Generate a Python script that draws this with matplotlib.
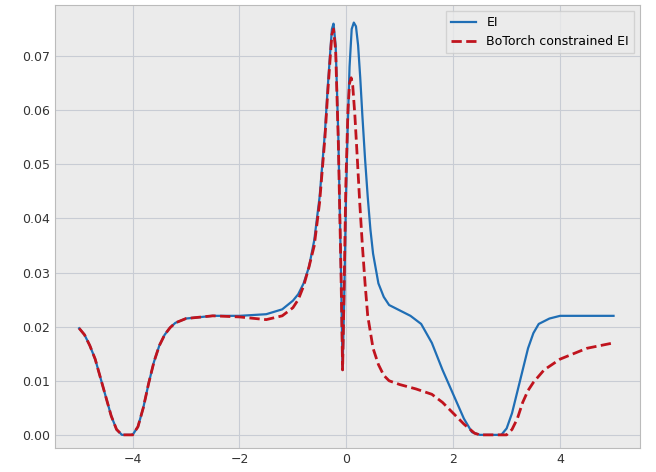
import numpy as np
import matplotlib.pyplot as plt

# EI curve
x_ei = [-5, -4.9, -4.8, -4.7, -4.6, -4.5, -4.4, -4.3, -4.2, -4.0, -3.9, -3.8, -3.7, -3.6, -3.5,
        -3.4, -3.3, -3.2, -3.0, -2.5, -2.0, -1.5, -1.2, -1.0, -0.9, -0.8, -0.7, -0.6, -0.5, -0.4,
        -0.35, -0.3, -0.27, -0.24, -0.2, -0.15, -0.1, -0.07, -0.04, -0.01, 0.02, 0.06, 0.1, 0.14,
        0.18, 0.22, 0.26, 0.3, 0.35, 0.4, 0.45, 0.5, 0.6, 0.7, 0.8, 1.0, 1.2, 1.4, 1.6, 1.8, 2.0,
        2.2, 2.35, 2.5, 2.9, 3.0, 3.1, 3.2, 3.3, 3.4, 3.5, 3.6, 3.8, 4.0, 5.0]
y_ei = [0.0197, 0.0185, 0.0165, 0.014, 0.0105, 0.007, 0.0035, 0.001, 0.0, 0.0, 0.0015, 0.005,
        0.0095, 0.0135, 0.0165, 0.0185, 0.0198, 0.0207, 0.0215, 0.022, 0.022, 0.0223, 0.0232,
        0.0248, 0.026, 0.028, 0.031, 0.036, 0.044, 0.056, 0.064, 0.071, 0.075, 0.076, 0.072,
        0.055, 0.03, 0.012, 0.025, 0.042, 0.055, 0.068, 0.075, 0.0762, 0.0755, 0.072, 0.066,
        0.059, 0.051, 0.044, 0.038, 0.0335, 0.028, 0.0255, 0.024, 0.023, 0.022, 0.0205, 0.017,
        0.012, 0.0075, 0.003, 0.0005, 0.0, 0.0, 0.0012, 0.004, 0.008, 0.012, 0.016, 0.0188, 0.0205,
        0.0215, 0.022, 0.022]

# BoTorch constrained EI
x_con = [-5, -4.9, -4.8, -4.7, -4.6, -4.5, -4.4, -4.3, -4.2, -4.0, -3.9, -3.8, -3.7, -3.6, -3.5,
         -3.4, -3.3, -3.2, -3.0, -2.5, -2.0, -1.5, -1.2, -1.0, -0.9, -0.8, -0.7, -0.6, -0.5, -0.4,
         -0.35, -0.3, -0.27, -0.24, -0.2, -0.15, -0.1, -0.07, -0.04, -0.01, 0.03, 0.06, 0.09,
         0.12, 0.16, 0.2, 0.25, 0.3, 0.35, 0.4, 0.5, 0.6, 0.7, 0.8, 1.0, 1.3, 1.6, 1.8, 2.0, 2.2,
         2.4, 2.5, 3.0, 3.1, 3.2, 3.3, 3.4, 3.5, 3.7, 4.0, 4.5, 5.0]
y_con = [0.0197, 0.0185, 0.0165, 0.014, 0.0105, 0.007, 0.0035, 0.001, 0.0, 0.0, 0.0015, 0.005,
         0.0095, 0.0135, 0.0165, 0.0185, 0.0198, 0.0207, 0.0215, 0.022, 0.0218, 0.0213, 0.022,
         0.0235, 0.025, 0.0275, 0.031, 0.035, 0.043, 0.055, 0.063, 0.07, 0.074, 0.075, 0.071,
         0.054, 0.03, 0.012, 0.028, 0.046, 0.06, 0.065, 0.066, 0.0645, 0.059, 0.052, 0.043, 0.035,
         0.028, 0.022, 0.016, 0.013, 0.011, 0.01, 0.0093, 0.0085, 0.0075, 0.006, 0.004, 0.002,
         0.0003, 0.0, 0.0, 0.001, 0.003, 0.006, 0.0082, 0.0097, 0.012, 0.014, 0.016, 0.017]

fig = plt.figure(figsize=(6.56, 4.72), dpi=100)
ax = fig.add_axes([0.084, 0.05, 0.892, 0.94])
ax.set_facecolor('#ebebeb')
ax.grid(True, color='#c8ccd4', lw=0.8)
ax.set_axisbelow(True)
for s in ax.spines.values():
    s.set_color('#bbbbbb')

ax.plot(x_ei, y_ei, color='#1f6eb5', lw=1.6, label='EI')
ax.plot(x_con, y_con, color='#c0141e', lw=2, ls='--', label='BoTorch constrained EI')

ax.set_xlim(-5.45, 5.5)
ax.set_ylim(-0.0025, 0.0795)
ax.set_xticks([-4, -2, 0, 2, 4])
ax.set_yticks(np.arange(0, 0.071, 0.01))
ax.set_yticklabels([f'{v:.2f}' for v in np.arange(0, 0.071, 0.01)])
ax.tick_params(length=0, labelsize=9, colors='#333333')
ax.legend(loc='upper right', fontsize=9, facecolor='#ebebeb', edgecolor='#cccccc', fancybox=False)

fig.savefig('out.png')
